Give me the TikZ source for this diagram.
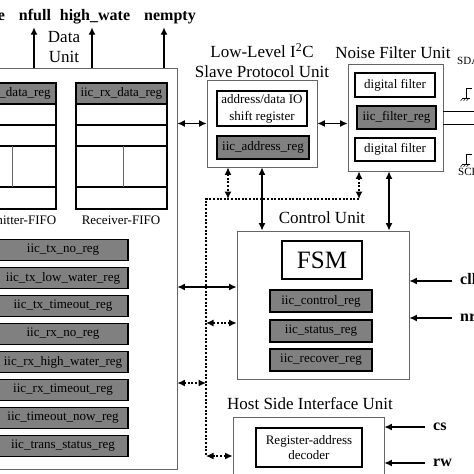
\documentclass[tikz,border=0pt]{standalone}
\usepackage{fontspec}
\setmainfont{Liberation Serif}
\usetikzlibrary{arrows.meta,positioning}

\tikzset{
    unitbox/.style={draw=black!60, line width=0.8pt, inner sep=0pt},
    whitebox/.style={draw, line width=1.6pt, fill=white, inner sep=0pt, align=center,
        font=\fontsize{13}{17}\selectfont},
    regbox/.style={whitebox, fill=black!50},
    unittitle/.style={font=\fontsize{17}{20}\selectfont, align=center, inner sep=0pt},
    signal/.style={font=\bfseries\fontsize{16}{18}\selectfont, inner sep=0pt,
        text height=11pt, text depth=3.5pt},
    link/.style={{Latex[length=7.5pt,width=7pt]}-{Latex[length=7.5pt,width=7pt]}, line width=1.3pt},
    dotlink/.style={link, dash pattern=on 2pt off 1.6pt},
    busline/.style={line width=1.3pt, dash pattern=on 2pt off 1.6pt},
    sigarrow/.style={-{Latex[length=7.5pt,width=7pt]}, line width=1.3pt},
}

\begin{document}
\begin{tikzpicture}[x=1pt, y=-1pt]
        \useasboundingbox (0,0) rectangle (474,474);

        % Data Unit
        \node[unitbox, minimum width=217pt, minimum height=401pt] (data) at (68.5,268.5) {};
        \node[unittitle] (datatitle) at (64,47.5) {Data\\Unit};

        \foreach \nm/\lx/\hd/\cap in {tx/-36/iic\_tx\_data\_reg/Transmitter-FIFO, rx/75/iic\_rx\_data\_reg/Receiver-FIFO}{
            \node[whitebox, minimum width=91pt, minimum height=126pt, anchor=north west] (\nm fifo) at (\lx,82) {};
            \node[regbox, minimum width=91pt, minimum height=21pt, anchor=north west] (\nm head) at (\lx,82) {\hd};
            \foreach \ry in {125,146,187}
                \draw[line width=1.6pt] (\lx,\ry) -- ++(91,0);
            \draw[black!60, line width=0.6pt] (\lx+48,146) -- (\lx+48,187);
            \node[font=\fontsize{13}{15}\selectfont] (\nm cap) at (\lx+46,220) {\cap};
        }

        \foreach \reg [count=\i from 0] in {iic\_tx\_no\_reg, iic\_tx\_low\_water\_reg, iic\_tx\_timeout\_reg,
            iic\_rx\_no\_reg, iic\_rx\_high\_water\_reg, iic\_rx\_timeout\_reg, iic\_timeout\_now\_reg, iic\_trans\_status\_reg}
            \node[regbox, minimum width=130pt, minimum height=21pt] (reg\i) at (63,250+28*\i) {\reg};

        % status signals
        \foreach \ax/\lx/\txt/\nm in {-30/-27/low\_wate/lowwater, 34/35/nfull/nfull, 92/95/high\_wate/highwater, 164/170/nempty/nempty}{
            \node[signal, anchor=base] (\nm) at (\lx,20.5) {\txt};
            \draw[sigarrow, shorten >=3pt] (data.north -| \ax,0) -- (\nm.south -| \ax,0);
        }

        % Low-Level I2C Slave Protocol Unit
        \node[unitbox, minimum width=110pt, minimum height=87pt] (prot) at (262,123.5) {};
        \node[unittitle] (prottitle) at (262,61) {Low-Level I\textsuperscript{2}C\\Slave Protocol Unit};
        \node[whitebox, minimum width=90pt, minimum height=35pt] (shift) at (262,108.5) {address/data IO\\shift register};
        \node[regbox, minimum width=92pt, minimum height=23pt] (addr) at (263,147.5) {iic\_address\_reg};

        % Noise Filter Unit
        \node[unitbox, minimum width=95pt, minimum height=107pt] (noise) at (395.5,117.5) {};
        \node[unittitle, anchor=base] (noisetitle) at (393,58) {Noise Filter Unit};
        \node[whitebox, minimum width=80pt, minimum height=24pt] (filt1) at (395,85) {digital filter};
        \node[regbox, minimum width=79pt, minimum height=23pt] (filtreg) at (396.5,117.5) {iic\_filter\_reg};
        \node[whitebox, minimum width=80pt, minimum height=23pt] (filt2) at (395,149.5) {digital filter};

        % bus lines and pull-ups
        \draw[line width=0.8pt] ([yshift=6.5pt]noise.east) -- ++(40,0);
        \draw[line width=0.8pt] ([yshift=-6.5pt]noise.east) -- ++(40,0);
        \node[font=\fontsize{11}{13}\selectfont, anchor=west, inner sep=0pt] (sda) at (457,61) {SDA};
        \node[font=\fontsize{11}{13}\selectfont, anchor=west, inner sep=0pt] (scl) at (458,172) {SCL};
        \foreach \gy in {93,159}{
            \draw[line width=0.7pt] (462,\gy+5) -- (470,\gy+5);
            \draw[line width=0.7pt] (466,\gy+5) -- (466,\gy-5) -- (472,\gy-5);
            \foreach \hx in {463,466,469}
                \draw[line width=0.5pt] (\hx,\gy+5) -- ++(-2.5,3);
        }

        % Control Unit
        \node[unitbox, minimum width=172pt, minimum height=148pt] (ctrl) at (323,305) {};
        \node[unittitle, anchor=base] (ctrltitle) at (322,223) {Control Unit};
        \node[whitebox, minimum width=80pt, minimum height=38pt, font=\fontsize{25}{28}\selectfont] (fsm) at (322,260) {FSM};
        \foreach \reg/\ry [count=\i] in {iic\_control\_reg/301, iic\_status\_reg/331, iic\_recover\_reg/360}
            \node[regbox, minimum width=102pt, minimum height=22pt] (creg\i) at (321,\ry) {\reg};

        % Host Side Interface Unit
        \node[unitbox, minimum width=151pt, minimum height=83pt] (host) at (308.5,458.5) {};
        \node[unittitle, anchor=base] (hosttitle) at (310,409) {Host Side Interface Unit};
        \node[whitebox, minimum width=106pt, minimum height=39pt] (decoder) at (309,447.5) {Register-address\\[-2pt]decoder};

        % external inputs
        \foreach \nm/\tx/\ty/\unit in {clk/460/281/ctrl, nrst/460/318/ctrl, cs/433/427/host, rw/433/463/host}{
            \node[signal, anchor=west] (\nm) at (\tx,\ty) {\nm};
            \draw[sigarrow] ([xshift=-8pt]\nm.west) -- (\nm.west -| \unit.east);
        }

        % solid links
        \draw[link] (prot.west) -- (prot.west -| data.east);
        \draw[link] (prot.east) -- (prot.east -| noise.west);
        \draw[link] (prot.south) -- (prot.south |- ctrl.north);
        \draw[link] ([xshift=-6.5pt]noise.south) -- ([xshift=-6.5pt]noise.south |- ctrl.north);
        \draw[link] ([yshift=18pt]ctrl.west) -- ([yshift=18pt]ctrl.west -| data.east);

        % dotted register bus
        \coordinate (busne) at (359,199);
        \coordinate (busnw) at (206,199);
        \coordinate (bussw) at (206,456);
        \draw[busline] (busne) -- (busnw) -- (bussw);
        \draw[dotlink] ([xshift=-34pt]prot.south) -- ([xshift=-34pt]prot.south |- busnw);
        \draw[dotlink] ([xshift=-36.5pt]noise.south) -- ([xshift=-36.5pt]noise.south |- busne);
        \draw[dotlink] ([yshift=-18pt]ctrl.west) -- ([yshift=-18pt]ctrl.west -| busnw);
        \draw[dotlink] ([yshift=-114.5pt]data.east) -- ([yshift=-114.5pt]data.east -| busnw);
        \draw[dotlink] (bussw) -- (bussw -| host.west);
    \end{tikzpicture}
\end{document}
